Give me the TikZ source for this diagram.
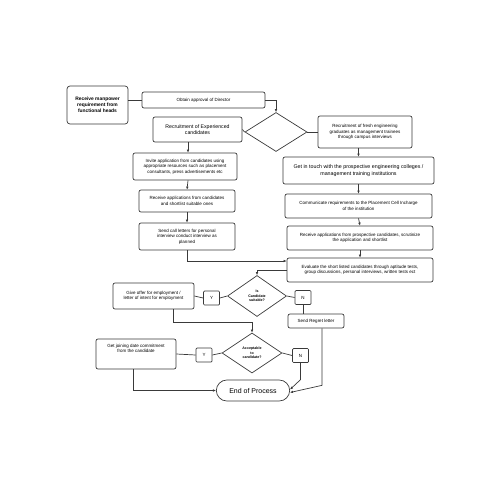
\documentclass[tikz,border=0pt]{standalone}
\usepackage{fontspec}
\setmainfont{Liberation Sans}
\usetikzlibrary{shapes.geometric,shapes.misc,arrows.meta,calc}
\definecolor{linea}{HTML}{3A3A3A}
\tikzset{
    caja/.style={draw=linea, line width=0.7pt, rounded corners=2pt, align=center,
        inner sep=1pt, font=\fontsize{4.5}{5.6}\selectfont},
    decision/.style={diamond, draw=linea, line width=0.7pt, aspect=1.45, inner sep=0pt,
        align=center, font=\bfseries\fontsize{3.6}{4.4}\selectfont},
    yn/.style={caja, minimum width=16pt, minimum height=14pt, rounded corners=1pt},
    flujo/.style={draw=linea, line width=0.7pt},
    flecha/.style={flujo, -{Latex[length=3pt,width=2.6pt]}}
}
\begin{document}
\begin{tikzpicture}[x=1pt,y=-1pt]

    \useasboundingbox (0,0) rectangle (495,495);

    % parte superior
    \node[caja, minimum width=61pt, minimum height=38pt, rounded corners=3pt,
        font=\bfseries\fontsize{4.9}{6}\selectfont] (recibir) at (97.5,105)
        {Receive manpower\\requirement from\\functional heads};
    \node[caja, minimum width=123pt, minimum height=16pt] (aprobar) at (203.5,100)
        {Obtain approval of Director};
    \node[decision, minimum width=62pt, minimum height=39pt] (tipo) at (276,132) {};

    \draw[flujo] (recibir.east |- aprobar.west) -- (aprobar.west);
    \draw[flecha] (aprobar.east) -| (tipo.north);

    % izquierda: candidatos con experiencia
    \node[caja, minimum width=89pt, minimum height=25pt, font=\fontsize{5.2}{6.4}\selectfont]
        (exper) at (197.5,129.5) {Recruitment of Experienced\\candidates};
    \node[caja, minimum width=104pt, minimum height=27pt] (invitar) at (185,166.5)
        {Invite application from candidates using\\appropriate resources such as placement\\consultants, press advertisements etc};
    \node[caja, minimum width=96pt, minimum height=22pt] (recibe) at (187,201)
        {Receive applications from candidates\\and shortlist suitable ones};
    \node[caja, minimum width=96pt, minimum height=27pt] (cartas) at (187,236.5)
        {Send call letters for personal\\interview conduct interview as\\planned};

    % derecha: recien graduados
    \node[caja, minimum width=94pt, minimum height=32pt] (fresco) at (365,132)
        {Recruitment of fresh engineering\\graduates as management trainees\\through campus interviews};
    \node[caja, minimum width=151pt, minimum height=27pt, font=\fontsize{5.3}{6.6}\selectfont]
        (contacto) at (358.5,170.5)
        {Get in touch with the prospective engineering colleges /\\management training institutions};
    \node[caja, minimum width=147pt, minimum height=24pt] (comunicar) at (358.5,206)
        {Communicate requirements to the Placement Cell Incharge\\of the institution};
    \node[caja, minimum width=146pt, minimum height=24pt] (prospecto) at (360,238)
        {Receive applications from prospective candidates, scrutinize\\the application and shortlist};
    \node[caja, minimum width=146pt, minimum height=24pt] (evaluar) at (360,270)
        {Evaluate the short listed candidates through aptitude tests,\\group discussions, personal interviews, written tests ect};

    \draw[flujo] (tipo.west) -- (exper.east);
    \draw[flujo] (tipo.east) -- (fresco.west);
    \draw[flecha] (exper.south -| invitar.north) ++(3,0) -- ([xshift=3pt]invitar.north);
    \draw[flecha] ([xshift=3pt]invitar.south) -- (recibe.north);
    \draw[flecha] (recibe.south) -- (cartas.north);
    \draw[flecha] (cartas.south) |- ($(evaluar.west)+(0,-9)$);
    \draw[flecha] (fresco.south -| contacto.north) -- (contacto.north);
    \draw[flecha] (contacto.south) -- (comunicar.north);
    \draw[flecha] (comunicar.south) -- (prospecto.north);
    \draw[flecha] (prospecto.south) -- (evaluar.north);

    % decision: candidato adecuado
    \node[decision, minimum width=59pt, minimum height=41pt] (adecuado) at (257,296)
        {Is\\Candidate\\suitable?};
    \node[yn] (si1) at (211.5,298) {Y};
    \node[yn] (no1) at (303,297.5) {N};
    \node[caja, minimum width=81pt, minimum height=26pt] (oferta) at (153.5,296)
        {Give offer for employment /\\letter of intent for employment};
    \node[caja, minimum width=56pt, minimum height=14pt] (rechazo) at (316,321)
        {Send Regret letter};

    \draw[flecha] (evaluar.west) -| (adecuado.north);
    \draw[flujo] (adecuado.west) -- (si1.east);
    \draw[flujo] (si1.west) -- (oferta.east);
    \draw[flujo] (adecuado.east) -- (no1.west);
    \draw[flujo] (no1.south) -- (no1.south |- rechazo.north);

    % decision: aceptable
    \node[decision, minimum width=60pt, minimum height=40pt] (acepta) at (252,353)
        {Acceptable\\to\\candidate?};
    \node[yn] (si2) at (204,355) {Y};
    \node[yn] (no2) at (300.5,355.5) {N};
    \node[caja, minimum width=80pt, minimum height=30pt] (ingreso) at (136,354)
        {Get joining date commitment\\from the candidate\\[6pt]};
    \node[rounded rectangle, draw=linea, line width=0.7pt, minimum width=80pt,
        minimum height=21pt, font=\fontsize{7}{8}\selectfont] (fin) at (253,390.5)
        {End of Process};

    \draw[flecha] ([xshift=20pt]oferta.south) |- ([yshift=10pt]acepta.north) -- (acepta.north);
    \draw[flujo] (acepta.west) -- (si2.east);
    \draw[flujo] (si2.west) -- (ingreso.east);
    \draw[flujo] (acepta.east) -- (no2.west);
    \draw[flecha] (no2.south) -- (no2.south |- fin.north) -- ([yshift=1pt]fin.east);
    \draw[flecha] ([xshift=6pt]rechazo.south) -- ++(0,57) -- ([yshift=-2pt]fin.east);
    \draw[flecha] ([xshift=-3pt]ingreso.south) |- (fin.west);

\end{tikzpicture}
\end{document}
